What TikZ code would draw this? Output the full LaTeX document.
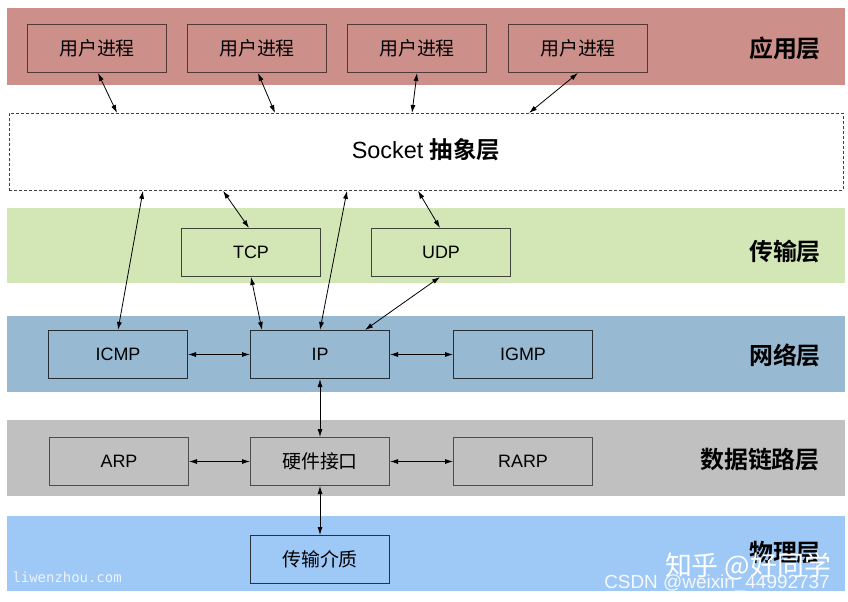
\documentclass[tikz,border=0pt]{standalone}
\usepackage{fontspec}
\setmainfont{Liberation Sans}
\newfontfamily\cjk{Noto Sans CJK SC}
\newfontfamily\cjkb{Noto Sans CJK SC Bold}
\setmonofont{DejaVu Sans Mono}
\usetikzlibrary{arrows.meta}
\definecolor{appc}{HTML}{CD8F8A}
\definecolor{trc}{HTML}{D3E6B5}
\definecolor{netc}{HTML}{98B9D2}
\definecolor{linkc}{HTML}{C0C0C0}
\definecolor{phyc}{HTML}{9EC8F6}
\tikzset{
  band/.style={draw=none, minimum width=838bp, inner sep=0pt, anchor=north west},
  proto/.style={draw=#1, line width=1bp, minimum width=139bp, minimum height=48bp, inner sep=0pt, anchor=north west, font=\fontsize{19}{21}\selectfont\cjk},
  latin/.style={font=\fontsize{18}{20}\selectfont},
  layerlbl/.style={font=\fontsize{24}{26}\selectfont\cjkb, anchor=center},
  arr/.style={{Latex[length=8bp,width=5bp]}-{Latex[length=8bp,width=5bp]}, line width=0.8bp, black},
}
\begin{document}
\begin{tikzpicture}[x=1bp,y=-1bp]
\useasboundingbox[fill=white] (0,0) rectangle (848,602);
% bands
\node[band, fill=appc, minimum height=77bp] (appband) at (7,8) {};
\node[band, fill=trc, minimum height=75bp] (trband) at (7,208) {};
\node[band, fill=netc, minimum height=76bp] (netband) at (7,316) {};
\node[band, fill=linkc, minimum height=76bp] (linkband) at (7,420) {};
\node[band, fill=phyc, minimum height=75bp] (phyband) at (7,516) {};
% socket layer
\node[draw=black!75, dashed, dash pattern=on 3bp off 2bp, line width=0.8bp, minimum width=834bp, minimum height=77bp, inner sep=0pt, anchor=north west] (sock) at (9,113) {};
\node[font=\fontsize{23.5}{26}\selectfont] (socktxt) at (426,150) {Socket {\cjkb 抽象层}};
% application
\node[proto=appc!40!black] (u1) at (27,24) {用户进程};
\node[proto=appc!40!black] (u2) at (187,24) {用户进程};
\node[proto=appc!40!black] (u3) at (347,24) {用户进程};
\node[proto=appc!40!black] (u4) at (508,24) {用户进程};
\node[layerlbl] (l1) at (785,48) {应用层};
% transport
\node[proto=trc!30!black, latin] (tcp) at (181,228) {TCP};
\node[proto=trc!30!black, latin] (udp) at (371,228) {UDP};
\node[layerlbl] (l2) at (785,251) {传输层};
% network
\node[proto=netc!25!black, latin] (icmp) at (48,330) {ICMP};
\node[proto=netc!25!black, latin] (ip) at (250,330) {IP};
\node[proto=netc!25!black, latin] (igmp) at (453,330) {IGMP};
\node[layerlbl] (l3) at (785,355) {网络层};
% data link
\node[proto=black!70, latin] (arp) at (49,437) {ARP};
\node[proto=black!70] (hw) at (250,437) {硬件接口};
\node[proto=black!70, latin] (rarp) at (453,437) {RARP};
\node[layerlbl] (l4) at (760,460) {数据链路层};
% physical
\node[proto=phyc!25!black] (med) at (250,535) {传输介质};
\node[layerlbl] (l5) at (785,553) {物理层};
% arrows app <-> socket
\draw[arr] ([xshift=1bp]u1.south) -- ([xshift=108bp]sock.north west);
\draw[arr] ([xshift=1bp]u2.south) -- ([xshift=266bp]sock.north west);
\draw[arr] (u3.south) -- ([xshift=403bp]sock.north west);
\draw[arr] (u4.south) -- ([xshift=520bp]sock.north west);
% socket <-> lower
\draw[arr] ([xshift=134bp]sock.south west) -- (icmp.north);
\draw[arr] ([xshift=214bp]sock.south west) -- ([xshift=-2bp]tcp.north);
\draw[arr] ([xshift=338bp]sock.south west) -- (ip.north);
\draw[arr] ([xshift=409bp]sock.south west) -- ([xshift=-1bp]udp.north);
\draw[arr] (tcp.south) -- ([xshift=-58bp]ip.north);
\draw[arr] ([xshift=-1bp]udp.south) -- ([xshift=45bp]ip.north);
% network horizontal
\draw[arr] (icmp.east) -- (ip.west);
\draw[arr] (ip.east) -- (igmp.west);
\draw[arr] (ip.south) -- (hw.north);
% link
\draw[arr] (arp.east) -- (hw.west);
\draw[arr] (hw.east) -- (rarp.west);
\draw[arr] (hw.south) -- (med.north);
% watermarks
\node[font=\fontsize{14}{16}\selectfont\ttfamily, text=white!80!phyc, anchor=west] (wm1) at (9,577) {liwenzhou.com};
\node[font=\fontsize{27}{30}\selectfont\cjk, text=white, draw=none] (wm2) at (748,566) {知乎 @好同学};
\node[font=\fontsize{19}{21}\selectfont, text=white!90!phyc] (wm3) at (717,584) {CSDN @weixin\_44992737};
\end{tikzpicture}
\end{document}
